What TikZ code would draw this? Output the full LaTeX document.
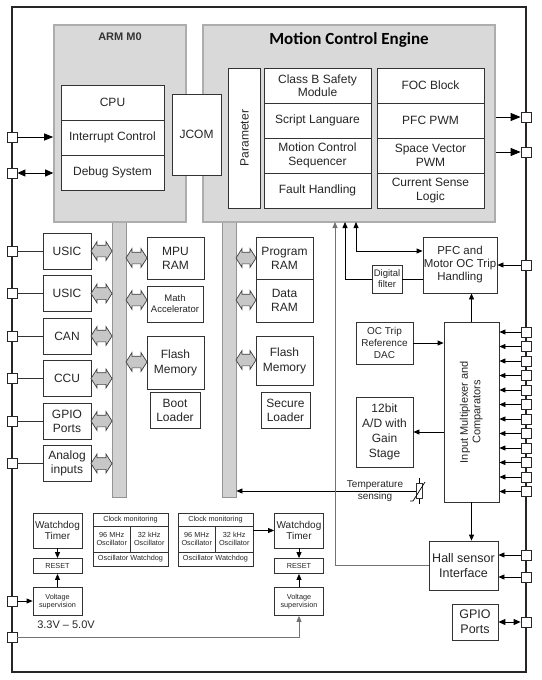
\documentclass[tikz,border=0pt]{standalone}
\usepackage{fontspec}
\setmainfont{Liberation Sans}
\newfontfamily\titlefont{Carlito}
\usepackage{graphicx}
\usetikzlibrary{arrows.meta,shapes.arrows,calc}

\tikzset{
  blk/.style={draw=black!80, line width=0.8pt, fill=white, inner sep=0pt, align=center,
    text=black!85, font=\fontsize{12}{14}\selectfont},
  corebox/.style={draw=black!32, line width=1.6pt, fill=black!15, inner sep=0pt},
  busbar/.style={draw=black!42, line width=0.8pt, fill=black!18, inner sep=0pt,
    minimum width=14pt, minimum height=275pt},
  iopad/.style={draw=black!85, line width=0.8pt, fill=white, inner sep=0pt, minimum size=10pt},
  fatarr/.style={double arrow, draw=black!75, line width=0.7pt, fill=black!22,
    inner xsep=0pt, inner ysep=5.5pt, minimum height=21pt,
    double arrow head extend=3.5pt, double arrow tip angle=115},
  flow/.style={line width=0.8pt, -{Triangle[length=6pt,width=5pt]}},
  dflow/.style={line width=0.8pt, {Triangle[length=6pt,width=5pt]}-{Triangle[length=6pt,width=5pt]}},
  bigflow/.style={line width=0.9pt, -{Triangle[length=10pt,width=8pt]}},
  fbig/.style={font=\fontsize{11.5}{13}\selectfont},
  fmid/.style={font=\fontsize{10}{11.8}\selectfont},
  fsmall/.style={font=\fontsize{9.5}{11}\selectfont},
  ftiny/.style={font=\fontsize{7.3}{8.6}\selectfont},
}

\begin{document}
\begin{tikzpicture}[x=1pt, y=-1pt]
\useasboundingbox (0,0) rectangle (541,680);

% ---- 外框 ----
\draw[line width=2pt, black!85] (12,7) rectangle (526,672);

% ---- 总线 ----
\node[busbar] (bar1) at (119,359.5) {};
\node[busbar] (bar2) at (229,359.5) {};

% ---- ARM M0 与 Motion Control Engine 底框 ----
\node[corebox, minimum width=132pt, minimum height=197pt] (arm) at (120,123.5) {};
\node[corebox, minimum width=292pt, minimum height=197pt] (mce) at (349,123.5) {};

% ---- ARM M0 ----
\node[text=black!80, font=\bfseries\fontsize{11}{13}\selectfont] (armt) at (120,37) {ARM M0};
\foreach \name/\y/\txt in {cpu/102.5/CPU, irq/137.5/{Interrupt Control}, dbg/172.5/{Debug System}}
  \node[blk, minimum width=103pt, minimum height=35pt] (\name) at (112.5,\y) {\txt};
\node[blk, minimum width=49pt, minimum height=81pt] (jcom) at (196.5,134.5) {JCOM};

% ---- Motion Control Engine ----
\node[font=\titlefont\bfseries\fontsize{17}{19}\selectfont] (mcet) at (349,40) {Motion Control Engine};
\node[blk, minimum width=32pt, minimum height=140pt] (param) at (244.5,138) {\rotatebox{90}{Parameter}};
\foreach \name/\y/\txt in {cls/85.5/{Class B Safety\\Module}, scr/120.5/{Script Languare},
    seq/155.5/{Motion Control\\Sequencer}, flt/190.5/{Fault Handling}}
  \node[blk, font=\fontsize{12}{13.5}\selectfont, minimum width=107pt, minimum height=35pt] (\name) at (317.5,\y) {\txt};
\foreach \name/\y/\txt in {foc/85.5/{FOC Block}, ppwm/120.5/{PFC PWM},
    svp/155.5/{Space Vector\\PWM}, csl/190.5/{Current Sense\\Logic}}
  \node[blk, font=\fontsize{12}{13.5}\selectfont, minimum width=107pt, minimum height=35pt] (\name) at (430.5,\y) {\txt};

% ---- 左侧引脚 ----
\node[iopad] (pi1) at (12,137) {};
\node[iopad] (pi2) at (12,173) {};
\draw[line width=0.9pt, -{Triangle[length=9pt,width=7pt]}] (pi1.east) -- (pi1 -| arm.west);
\draw[line width=0.9pt, {Triangle[length=8pt,width=7pt]}-{Triangle[length=8pt,width=7pt]}] (pi2.east) -- (pi2 -| arm.west);

% ---- 右侧输出 ----
\foreach \n/\y in {po1/117, po2/152} {
  \node[iopad] (\n) at (526,\y) {};
  \draw[bigflow] (\n -| mce.east) -- (\n.west);
}

% ---- 外设 ----
\foreach \i/\txt in {0/USIC, 1/USIC, 2/CAN, 3/CCU, 4/{GPIO\\Ports}, 5/{Analog\\inputs}} {
  \pgfmathsetmacro{\yy}{251+42.5*\i}
  \node[blk, minimum width=48pt, minimum height=36pt] (per\i) at (67,\yy) {\txt};
  \node[iopad] (pl\i) at (12,\yy) {};
  \draw[line width=0.8pt, black!80] (pl\i.east) -- (per\i.west);
  \node[fatarr] (fl\i) at (101.5,\yy) {};
}

% ---- ARM 侧存储 ----
\node[blk, minimum width=57pt, minimum height=42pt] (mpu) at (175.5,258) {MPU\\RAM};
\node[blk, fsmall, minimum width=56pt, minimum height=36pt] (math) at (175,304) {Math\\Accelerator};
\node[blk, font=\fontsize{12}{15}\selectfont, minimum width=57pt, minimum height=53pt] (flsa) at (175.5,362.5) {Flash\\Memory};
\node[blk, minimum width=50pt, minimum height=36pt] (boot) at (175,410) {Boot\\Loader};
\foreach \y in {258, 300, 362}
  \node[fatarr] at (136.5,\y) {};

% ---- MCE 侧存储 ----
\node[blk, minimum width=57pt, minimum height=42pt] (prog) at (284.5,258) {Program\\RAM};
\node[blk, minimum width=57pt, minimum height=43pt] (data) at (284.5,300.5) {Data\\RAM};
\node[blk, font=\fontsize{12}{15}\selectfont, minimum width=57pt, minimum height=49pt] (flsb) at (284.5,360.5) {Flash\\Memory};
\node[blk, minimum width=49pt, minimum height=36pt] (sec) at (285.5,410) {Secure\\Loader};
\foreach \y in {258, 300, 360}
  \node[fatarr, minimum height=20pt] at (246,\y) {};

% ---- PFC 与滤波 ----
\node[blk, fbig, minimum width=74pt, minimum height=56pt] (pfc) at (460,265) {PFC and\\Motor OC Trip\\Handling};
\node[blk, fsmall, minimum width=30pt, minimum height=28pt] (filt) at (387,279) {Digital\\filter};
\coordinate (mb1) at (335,222);
\coordinate (mb2) at (345,222);
\coordinate (mb3) at (356,222);
\draw[flow] (filt.west) -| (mb2);
\draw[line width=0.8pt] ($(pfc.west)+(0,14)$) -- (filt.east);
\draw[dflow] (mb3) |- ($(pfc.west)+(0,-14)$);
\node[iopad] (pp) at (526,265) {};
\draw[flow] (pp.west) -- (pfc.east);

% ---- 多路选择与比较 ----
\node[blk, font=\fontsize{11}{12.5}\selectfont, minimum width=55pt, minimum height=180pt] (mux) at (471.5,412)
  {\rotatebox{90}{\begin{tabular}{@{}c@{}}Input Multiplexer and\\Comparators\end{tabular}}};
\foreach \i in {0,...,11} {
  \pgfmathsetmacro{\yy}{332+14.5*\i}
  \node[iopad] (pm\i) at (526,\yy) {};
  \draw[flow] (pm\i.west) -- (pm\i.west -| mux.east);
}
\node[blk, font=\fontsize{10}{12}\selectfont, minimum width=57pt, minimum height=42pt] (dac) at (384.5,343) {OC Trip\\Reference\\DAC};
\node[blk, font=\fontsize{12}{15}\selectfont, minimum width=57pt, minimum height=70pt] (adc) at (384.5,432) {12bit\\A/D with\\Gain\\Stage};
\draw[flow] (dac.east) -- (dac.east -| mux.west);
\draw[flow] (adc.east -| mux.west) -- (adc.east);
\draw[flow] (mux.north) -- (mux.north |- pfc.south);

% ---- 温度检测 ----
\node[draw=black!80, line width=0.7pt, minimum width=6pt, minimum height=15pt, inner sep=0pt] (therm) at (419,491) {};
\draw[line width=0.7pt] (therm.north) -- ++(0,-5) (therm.south) -- ++(0,5);
\draw[line width=0.7pt] (410,501) -- (413,501) -- (425,482);
\draw[flow] (therm.west) -- (therm.west -| bar2.east);
\node[fmid, text=black!85, align=center] (tmp) at (375,491) {Temperature\\sensing};

% ---- 霍尔接口 ----
\node[blk, font=\fontsize{12.5}{15}\selectfont, minimum width=69pt, minimum height=49pt] (hall) at (463.5,565.5) {Hall sensor\\Interface};
\draw[flow] (mux.south) -- (mux.south |- hall.north);
\draw[flow, black!55] (hall.west) -| (mb1);
\foreach \n/\y in {ph1/555, ph2/577} {
  \node[iopad] (\n) at (526,\y) {};
  \draw[flow] (\n.west) -- (\n.west -| hall.east);
}
\node[blk, font=\fontsize{12.5}{15}\selectfont, minimum width=46pt, minimum height=36pt] (gpr) at (475,622) {GPIO\\Ports};
\node[iopad] (pg) at (526,622) {};
\draw[line width=0.9pt, {Triangle[length=7pt,width=6pt]}-{Triangle[length=7pt,width=6pt]}] (gpr.east) -- (pg.west);

% ---- 时钟监控 ----
\foreach \k/\x in {a/130.5, b/215.5} {
  \node[blk, ftiny, minimum width=75pt, minimum height=13pt] (ckm\k) at (\x,519.5) {Clock monitoring};
  \node[blk, ftiny, minimum width=37.5pt, minimum height=26pt] (osc\k1) at (\x-18.75,539) {96 MHz\\Oscillator};
  \node[blk, ftiny, minimum width=37.5pt, minimum height=26pt] (osc\k2) at (\x+18.75,539) {32 kHz\\Oscillator};
  \node[blk, ftiny, minimum width=75pt, minimum height=14pt] (owd\k) at (\x,559) {Oscillator Watchdog};
}

% ---- 看门狗与复位 ----
\foreach \k/\x in {1/57.5, 2/299} {
  \node[blk, fmid, minimum width=49pt, minimum height=35pt] (wdt\k) at (\x,530.5) {Watchdog\\Timer};
  \node[blk, ftiny, minimum width=49pt, minimum height=15pt] (rst\k) at (\x,566) {RESET};
  \node[blk, ftiny, minimum width=49pt, minimum height=28pt] (vs\k) at (\x,601.5) {Voltage\\supervision};
  \draw[flow] (wdt\k) -- (rst\k);
  \draw[flow] (vs\k) -- (rst\k);
}
\draw[flow] (wdt2.west -| oscb2.east) -- (wdt2.west);
\node[iopad] (pv1) at (12,601) {};
\node[iopad] (pv2) at (12,637) {};
\draw[flow] (pv1.east) -- (pv1 -| vs1.west);
\draw[flow, black!55] (pv2.east) -| (vs2.south);
\node[font=\fontsize{11}{13}\selectfont, text=black!85] (vlt) at (66,625) {3.3V – 5.0V};

\end{tikzpicture}
\end{document}
